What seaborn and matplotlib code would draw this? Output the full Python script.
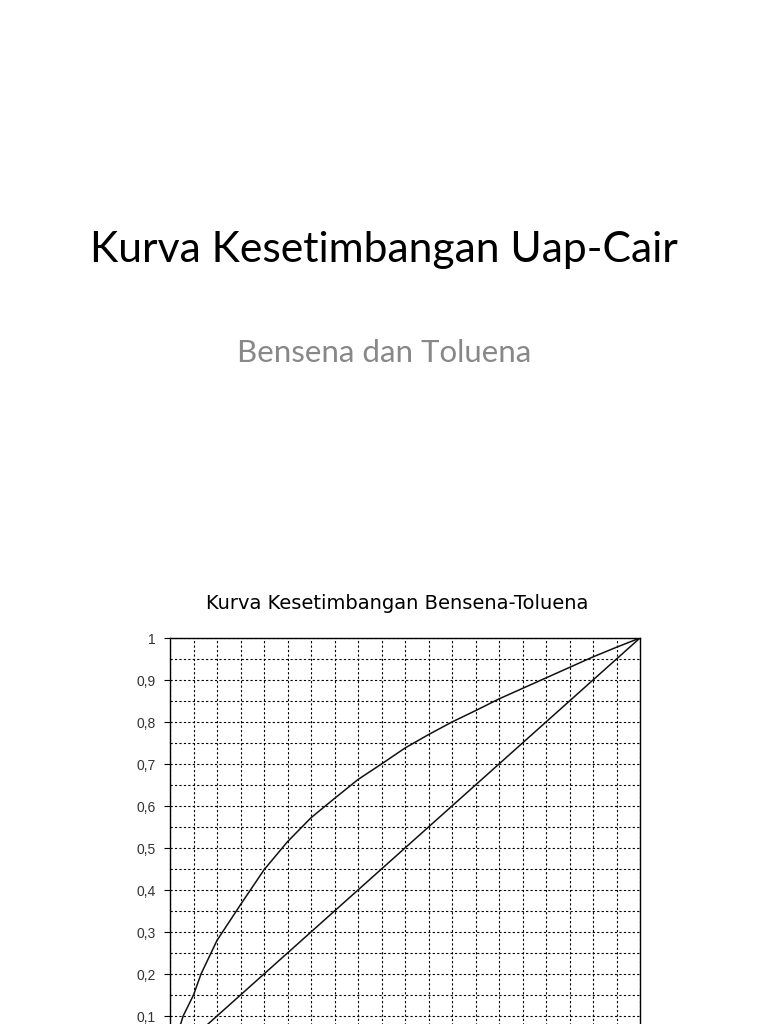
import numpy as np
import pandas as pd
import matplotlib
matplotlib.use("Agg")
import matplotlib.pyplot as plt
from matplotlib.ticker import MultipleLocator, FuncFormatter
import seaborn as sns

# data (x = liquid, y = vapour mole fraction of benzene)
x_eq = [0.0, 0.028, 0.05, 0.066, 0.1, 0.15, 0.2, 0.25, 0.3, 0.35, 0.4, 0.45,
        0.5, 0.55, 0.6, 0.65, 0.7, 0.75, 0.8, 0.85, 0.9, 0.95, 1.0]
y_eq = [0.0, 0.10, 0.15, 0.20, 0.28, 0.365, 0.448, 0.515, 0.572, 0.618, 0.663, 0.70,
        0.738, 0.77, 0.80, 0.827, 0.855, 0.88, 0.905, 0.93, 0.955, 0.978, 1.0]
x_diag = [0.0, 1.0]
y_diag = [0.0, 1.0]

slide_title = "Kurva Kesetimbangan Uap-Cair"
slide_subtitle = "Bensena dan Toluena"
chart_title = "Kurva Kesetimbangan Bensena-Toluena"

sns.set_style("white")
plt.rcParams['font.family'] = ['Lato', 'DejaVu Sans']

fig = plt.figure(figsize=(7.68, 10.24), dpi=100)
W, H = 768, 1024
ax = fig.add_axes([170 / W, 1 - 1058 / H, 470 / W, 420 / H])

sns.lineplot(x=x_eq, y=y_eq, ax=ax, color="#111111", linewidth=1.1, sort=False)
sns.lineplot(x=x_diag, y=y_diag, ax=ax, color="#111111", linewidth=1.1, sort=False)

ax.set_xlim(0, 1)
ax.set_ylim(0, 1)
ax.xaxis.set_major_locator(MultipleLocator(0.1))
ax.xaxis.set_minor_locator(MultipleLocator(0.05))
ax.yaxis.set_major_locator(MultipleLocator(0.1))
ax.yaxis.set_minor_locator(MultipleLocator(0.05))
# comma decimals; the 0 label sits below the visible slide, so leave it blank
fmt = FuncFormatter(lambda v, p: "" if abs(v) < 1e-9 else ("%g" % round(v, 2)).replace(".", ","))
ax.yaxis.set_major_formatter(fmt)
ax.grid(True, which="both", color="black", linestyle=(0, (2, 2)), linewidth=0.8)
ax.set_axisbelow(True)
ax.tick_params(axis="y", which="major", left=True, length=4, width=0.8, color="black",
               labelsize=10, labelcolor="#333333", pad=6)
ax.tick_params(axis="y", which="minor", left=False)
ax.tick_params(axis="x", which="both", bottom=False, labelbottom=False)
for lab in ax.get_yticklabels():
    lab.set_family(["Liberation Sans", "DejaVu Sans"])
for s in ax.spines.values():
    s.set_color("black")
    s.set_linewidth(1.0)

fig.text(0.5, 1 - 262 / H, slide_title, ha="center", va="baseline",
         fontsize=30.7, color="black", family=["Lato", "DejaVu Sans"])
fig.text(0.5, 1 - 362 / H, slide_subtitle, ha="center", va="baseline",
         fontsize=22.5, color="#888888", family=["Lato", "DejaVu Sans"])
fig.text(397 / W, 1 - 609 / H, chart_title, ha="center", va="baseline",
         fontsize=14, color="black", family=["DejaVu Sans"])

fig.savefig("out.png", dpi=100)
